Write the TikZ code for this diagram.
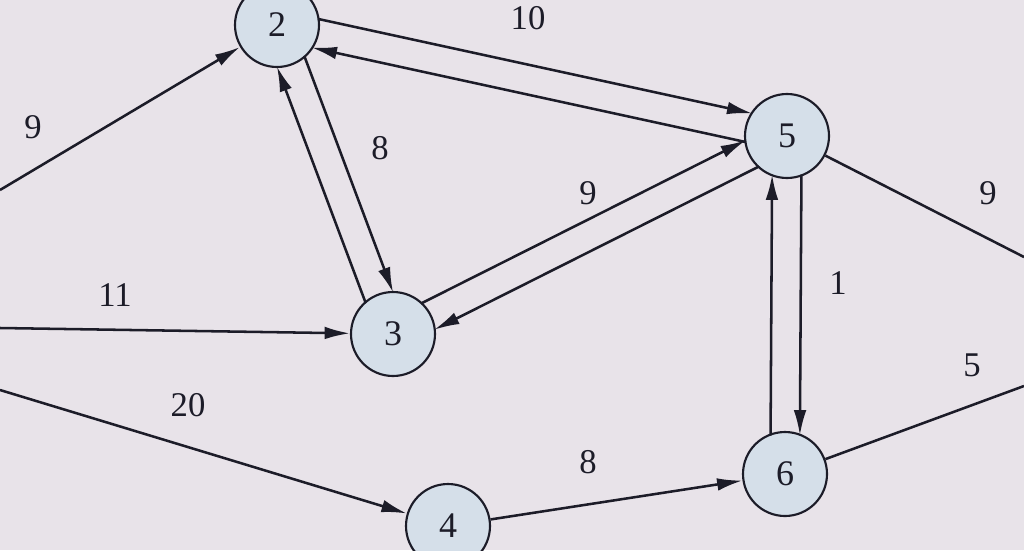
\documentclass[tikz,border=0pt]{standalone}
\usepackage{fontspec}
\setmainfont{Liberation Serif}
\usetikzlibrary{arrows.meta,calc}
\definecolor{bg}{HTML}{E8E3E9}
\definecolor{nodefill}{HTML}{D5DFE9}
\definecolor{ink}{HTML}{1C1C28}
\newcommand\pairedge[2]{\draw[arr,shorten <=29pt,shorten >=29pt] ($(#1)!11pt!90:(#2)$) -- ($(#2)!11pt!-90:(#1)$);}
\begin{document}
\begin{tikzpicture}[x=0.75pt,y=-0.75pt,
  vertex/.style={circle,draw=ink,line width=1.6pt,fill=nodefill,minimum size=63pt,inner sep=0pt,font=\fontsize{27}{29}\selectfont,text=ink},
  arr/.style={draw=ink,line width=1.9pt,-{Latex[length=19pt,width=9.5pt]}},
  plainedge/.style={draw=ink,line width=1.9pt},
  lbl/.style={font=\fontsize{26}{28}\selectfont,text=ink,inner sep=0pt}]
\fill[bg] (0,0) rectangle (1024,550);
\useasboundingbox (0,0) rectangle (1024,550);
\clip (0,0) rectangle (1024,550);
\node[vertex] (n2) at (277,25) {2};
\node[vertex] (n5) at (787,136) {5};
\node[vertex] (n3) at (393,334) {3};
\node[vertex] (n6) at (785,474) {6};
\node[vertex] (n4) at (448,526) {4};
\coordinate (L1) at (0,190);
\coordinate (L2) at (0,328);
\coordinate (L3) at (0,390);
\coordinate (R1) at (1024,257);
\coordinate (R2) at (1024,386);
\draw[arr] (L1) -- (n2);
\draw[arr] (L2) -- (n3);
\draw[arr] (L3) -- (n4);
\draw[arr] (n4) -- (n6);
\draw[plainedge] (n5) -- (R1);
\draw[plainedge] (n6) -- (R2);
\pairedge{n2}{n5}
\pairedge{n5}{n2}
\pairedge{n2}{n3}
\pairedge{n3}{n2}
\pairedge{n3}{n5}
\pairedge{n5}{n3}
\pairedge{n5}{n6}
\pairedge{n6}{n5}
\node[lbl] (w12) at (33,127) {9};
\node[lbl] (w25) at (528,18) {10};
\node[lbl] (w23) at (380,148) {8};
\node[lbl] (w35) at (588,193) {9};
\node[lbl] (w13) at (115,295) {11};
\node[lbl] (w14) at (188,405) {20};
\node[lbl] (w46) at (588,462) {8};
\node[lbl] (w56) at (838,283) {1};
\node[lbl] (w5r) at (988,193) {9};
\node[lbl] (w6r) at (972,365) {5};
\end{tikzpicture}
\end{document}
